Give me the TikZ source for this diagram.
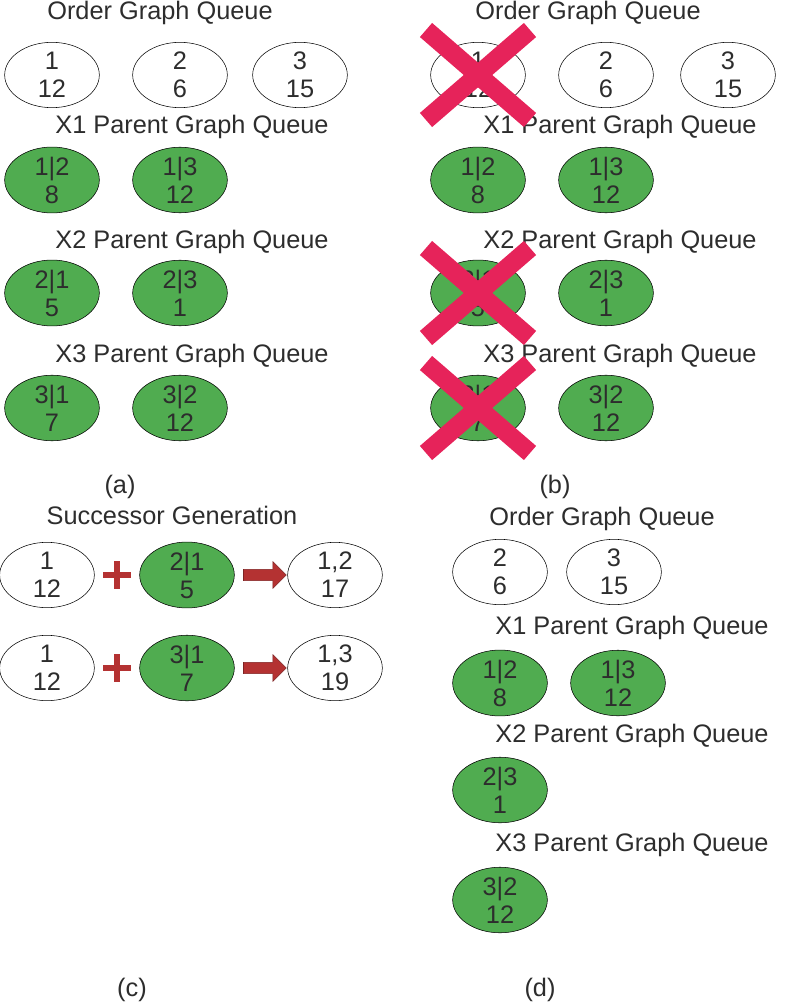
\documentclass[tikz,border=0pt]{standalone}
\usepackage{fontspec}
\setmainfont{Liberation Sans}
\usetikzlibrary{shapes.geometric, shapes.arrows, positioning}
\definecolor{qgreen}{RGB}{80,172,80}
\definecolor{xred}{RGB}{230,35,90}
\definecolor{opred}{RGB}{180,50,50}
\definecolor{txt}{RGB}{45,45,45}

\begin{document}
\begin{tikzpicture}[x=0.75pt, y=-0.75pt, font=\fontsize{19}{21}\selectfont, text=txt]
    \tikzstyle{order} = [ellipse, draw=black, fill=white, minimum width=71pt, minimum height=49pt, inner sep=0pt, align=center]
    \tikzstyle{parent} = [ellipse, draw=black, fill=qgreen, minimum width=71pt, minimum height=49pt, inner sep=0pt, align=center]
    \tikzstyle{title} = [inner sep=0pt]
    \tikzstyle{cross} = [xred, line width=14pt]
    \tikzstyle{plus} = [opred, line width=5pt]
    \tikzstyle{step arrow} = [single arrow, draw=opred!70!black, fill=opred, minimum height=32pt, minimum width=20pt, single arrow head extend=3pt, inner sep=2pt]

    \useasboundingbox (0,0) rectangle (804,1005);

    % (a)
    \node[title] (ta) at (160,13) {Order Graph Queue};
    \node[order] (a1) at (52,75) {1\\12};
    \node[order] (a2) at (180,75) {2\\6};
    \node[order] (a3) at (300,75) {3\\15};
    \node[title] (ta1) at (192,127) {X1 Parent Graph Queue};
    \node[parent] (a12) at (52,180) {1|2\\8};
    \node[parent] (a13) at (180,180) {1|3\\12};
    \node[title] (ta2) at (192,242) {X2 Parent Graph Queue};
    \node[parent] (a21) at (52,293) {2|1\\5};
    \node[parent] (a23) at (180,293) {2|3\\1};
    \node[title] (ta3) at (192,356) {X3 Parent Graph Queue};
    \node[parent] (a31) at (52,408) {3|1\\7};
    \node[parent] (a32) at (180,408) {3|2\\12};
    \node (la) at (120,487) {(a)};

    % (b)
    \node[title] (tb) at (588,13) {Order Graph Queue};
    \node[order] (b1) at (478,75) {1\\12};
    \node[order] (b2) at (606,75) {2\\6};
    \node[order] (b3) at (728,75) {3\\15};
    \node[title] (tb1) at (620,127) {X1 Parent Graph Queue};
    \node[parent] (b12) at (478,180) {1|2\\8};
    \node[parent] (b13) at (606,180) {1|3\\12};
    \node[title] (tb2) at (620,242) {X2 Parent Graph Queue};
    \node[parent] (b21) at (478,293) {2|1\\5};
    \node[parent] (b23) at (606,293) {2|3\\1};
    \node[title] (tb3) at (620,356) {X3 Parent Graph Queue};
    \node[parent] (b31) at (478,408) {3|1\\7};
    \node[parent] (b32) at (606,408) {3|2\\12};
    \foreach \n in {b1,b21,b31} {
        \draw[cross] ([shift={(-52,-45)}]\n.center) -- ([shift={(52,45)}]\n.center);
        \draw[cross] ([shift={(52,-45)}]\n.center) -- ([shift={(-52,45)}]\n.center);
    }
    \node (lb) at (555,487) {(b)};

    % (c)
    \node[title] (tc) at (172,515) {Successor Generation};
    \node[order] (c1) at (47,575) {1\\12};
    \node[parent] (c21) at (187,575) {2|1\\5};
    \node[order] (c12) at (335,575) {1,2\\17};
    \node[order] (c1b) at (47,668) {1\\12};
    \node[parent] (c31) at (187,668) {3|1\\7};
    \node[order] (c13) at (335,668) {1,3\\19};
    \foreach \y in {575,668} {
        \draw[plus] (103,\y) -- (131,\y);
        \draw[plus] (117,\y-14) -- (117,\y+14);
        \node[step arrow] at (262,\y) {};
    }
    \node (lc) at (132,990) {(c)};

    % (d)
    \node[title] (td) at (602,519) {Order Graph Queue};
    \node[order] (d2) at (500,572) {2\\6};
    \node[order] (d3) at (614,572) {3\\15};
    \node[title] (td1) at (632,628) {X1 Parent Graph Queue};
    \node[parent] (d12) at (500,683) {1|2\\8};
    \node[parent] (d13) at (618,683) {1|3\\12};
    \node[title] (td2) at (632,736) {X2 Parent Graph Queue};
    \node[parent] (d23) at (500,790) {2|3\\1};
    \node[title] (td3) at (632,845) {X3 Parent Graph Queue};
    \node[parent] (d32) at (500,900) {3|2\\12};
    \node (ld) at (540,990) {(d)};
\end{tikzpicture}
\end{document}
